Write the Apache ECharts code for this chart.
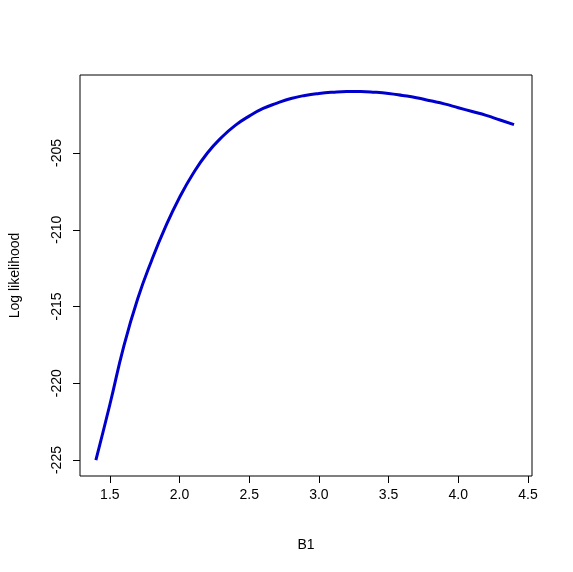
<!DOCTYPE html>
<html><head><meta charset="utf-8">
<script src="https://cdn.jsdelivr.net/npm/echarts@6/dist/echarts.min.js"></script>
<style>html,body{margin:0;padding:0;background:#fff}#c{width:573px;height:572px}</style>
</head><body><div id="c"></div>
<script>
const b1 = [1.4,1.5,1.6,1.7,1.8,1.9,2.0,2.1,2.2,2.3,2.4,2.5,2.6,2.7,2.8,2.9,3.0,3.1,3.2,3.3,3.4,3.5,3.6,3.7,3.8,3.9,4.0,4.1,4.2,4.3,4.4];
const logLik = [-225,-221.4,-217.6,-214.5,-212.0,-209.8,-207.9,-206.3,-205.0,-204.0,-203.2,-202.6,-202.1,-201.75,-201.45,-201.25,-201.12,-201.04,-201.0,-201.0,-201.04,-201.12,-201.25,-201.4,-201.6,-201.8,-202.05,-202.3,-202.55,-202.85,-203.15];
const xTicks = [1.5,2.0,2.5,3.0,3.5,4.0,4.5];
const yTicks = [-225,-220,-215,-210,-205];

const chart = echarts.init(document.getElementById('c'));
const font = 'Liberation Sans, Arial, sans-serif';
chart.setOption({
  animation: false,
  grid: {left: 78, right: 41, top: 75, bottom: 96, show: true, borderColor: '#000', borderWidth: 1},
  xAxis: {
    type: 'value', min: 1.286, max: 4.529,
    name: 'B1', nameLocation: 'middle', nameGap: 62,
    nameTextStyle: {fontFamily: font, fontSize: 14, color: '#000'},
    axisLine: {show: false},
    splitLine: {show: false},
    axisTick: {show: true, length: 7, customValues: xTicks, lineStyle: {color: '#000'}},
    axisLabel: {customValues: xTicks, margin: 12, fontFamily: font, fontSize: 14, color: '#000',
      formatter: v => v.toFixed(1)}
  },
  yAxis: {
    type: 'value', min: -226.04, max: -199.92,
    name: 'Log likelihood', nameLocation: 'middle', nameGap: 58, nameRotate: 90,
    nameTextStyle: {fontFamily: font, fontSize: 14, color: '#000'},
    axisLine: {show: false},
    splitLine: {show: false},
    axisTick: {show: true, length: 7, customValues: yTicks, lineStyle: {color: '#000'}},
    axisLabel: {customValues: yTicks, rotate: 90, margin: 16, fontFamily: font, fontSize: 14, color: '#000',
      formatter: v => String(v)}
  },
  series: [{
    type: 'line', data: b1.map((x, i) => [x, logLik[i]]),
    smooth: true, showSymbol: false,
    lineStyle: {color: '#0000CD', width: 3}
  }]
});
</script></body></html>
